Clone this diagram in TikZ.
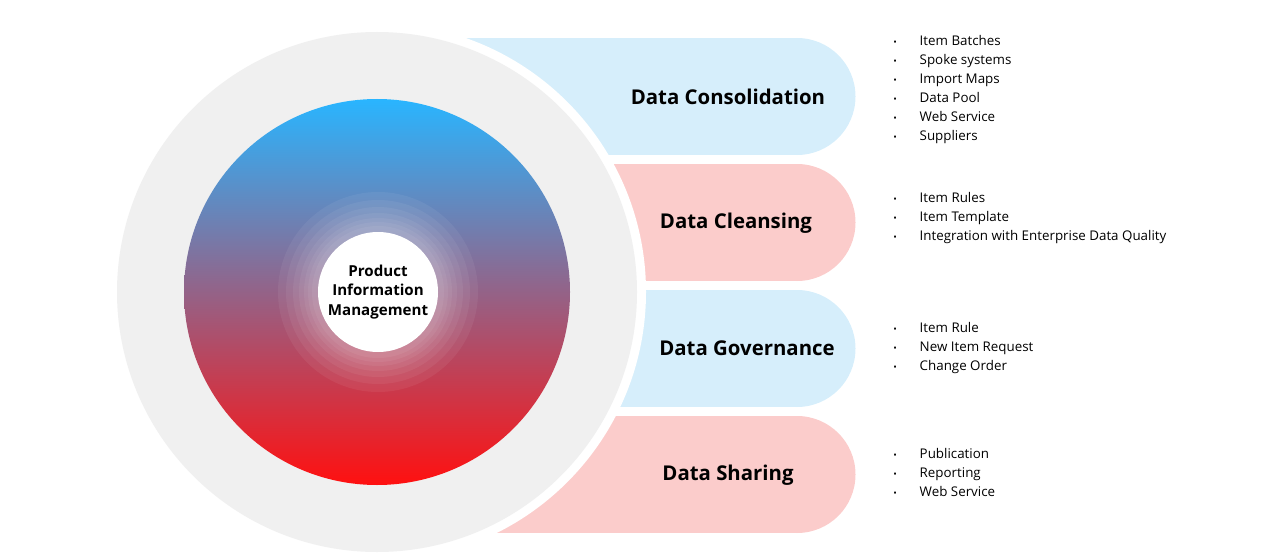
\documentclass[tikz,border=0pt]{standalone}
\usepackage{fontspec}
\setmainfont{Open Sans}
\newcommand{\bl}{\makebox[15pt][l]{\scalebox{0.7}{\textbullet}}}
\begin{document}
\begin{tikzpicture}[x=0.02cm,y=-0.02cm,
  lbl/.style={font=\fontsize{11.6}{13}\selectfont\bfseries,anchor=center},
  lst/.style={font=\fontsize{7.6}{10.8}\selectfont,anchor=north west,align=left,inner sep=0pt}]
\useasboundingbox (0,0) rectangle (1274,554);
\definecolor{lb}{HTML}{D6EEFB}
\definecolor{pk}{HTML}{FBCCCB}
\definecolor{gr}{HTML}{F0F0F0}
% bands
\foreach \t/\c in {38/lb,164/pk,290/lb,416/pk}{
  \fill[\c] (300,\t) rectangle (797,\t+117);
  \fill[\c] (797,\t+58.5) circle[radius=58.5];
}
\fill[white] (377,292) circle[radius=269];
\node[circle,fill=gr,minimum size=520*0.02cm,inner sep=0pt] (outer) at (377,292) {};
\shade[top color={rgb,255:red,41;green,181;blue,255},middle color={rgb,255:red,175;green,140;blue,200},bottom color={rgb,255:red,255;green,16;blue,16}] (377,292) circle[radius=193];
\foreach \r in {100,92,85,79,74,70,66}{\fill[white,opacity=0.06] (378,292) circle[radius=\r];}
\node[circle,fill=white,minimum size=120*0.02cm,inner sep=0pt,align=center,font=\fontsize{8.6}{11.2}\selectfont\bfseries] (pim) at (378,292) {Product\\Information\\Management};
\node[lbl] (l1) at (728,97) {Data Consolidation};
\node[lbl] (l2) at (736,223) {Data Cleansing};
\node[lbl] (l3) at (747,348) {Data Governance};
\node[lbl] (l4) at (728,475) {Data Sharing};
\node[lst] (s1) at (893,35) {\bl Item Batches\\\bl Spoke systems\\\bl Import Maps\\\bl Data Pool\\\bl Web Service\\\bl Suppliers};
\node[lst] (s2) at (893,192) {\bl Item Rules\\\bl Item Template\\\bl Integration with Enterprise Data Quality};
\node[lst] (s3) at (893,322) {\bl Item Rule\\\bl New Item Request\\\bl Change Order};
\node[lst] (s4) at (893,448) {\bl Publication\\\bl Reporting\\\bl Web Service};
\end{tikzpicture}
\end{document}
